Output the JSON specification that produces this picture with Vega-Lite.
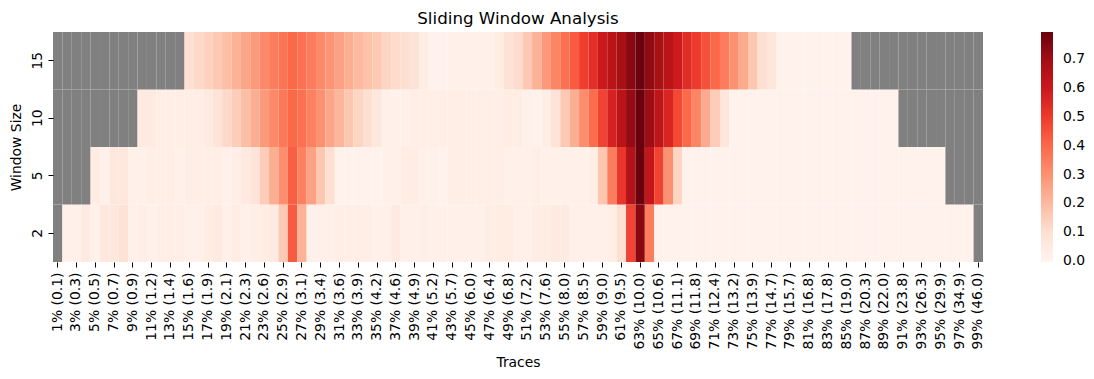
{
  "$schema": "https://vega.github.io/schema/vega-lite/v6.json",
  "autosize": "none",
  "padding": {"left": 53, "top": 32, "right": 111, "bottom": 117},
  "width": 930,
  "height": 230,
  "background": "white",
  "title": {"text": "Sliding Window Analysis", "fontSize": 16.7, "font": "DejaVu Sans", "fontWeight": "normal", "color": "black", "anchor": "middle", "frame": "group", "baseline": "alphabetic", "offset": 8, "dy": 17},
  "config": {"view": {"stroke": null}, "font": "DejaVu Sans"},
  "data": {"values": [
    {"t": "1% (0.1)", "2": null, "5": null, "10": null, "15": null},
    {"t": "2% (0.2)", "2": 0.02, "5": null, "10": null, "15": null},
    {"t": "3% (0.3)", "2": 0.02, "5": null, "10": null, "15": null},
    {"t": "4% (0.4)", "2": 0.05, "5": null, "10": null, "15": null},
    {"t": "5% (0.5)", "2": 0.02, "5": 0.04, "10": null, "15": null},
    {"t": "6% (0.6)", "2": 0.06, "5": 0.02, "10": null, "15": null},
    {"t": "7% (0.7)", "2": 0.06, "5": 0.06, "10": null, "15": null},
    {"t": "8% (0.8)", "2": 0.09, "5": 0.06, "10": null, "15": null},
    {"t": "9% (0.9)", "2": 0.02, "5": 0.02, "10": null, "15": null},
    {"t": "10% (1.0)", "2": 0.03, "5": 0.02, "10": 0.05, "15": null},
    {"t": "11% (1.2)", "2": 0.02, "5": 0.03, "10": 0.05, "15": null},
    {"t": "12% (1.3)", "2": 0.03, "5": 0.03, "10": 0.03, "15": null},
    {"t": "13% (1.4)", "2": 0.03, "5": 0.03, "10": 0.03, "15": null},
    {"t": "14% (1.5)", "2": 0.03, "5": 0.02, "10": 0.03, "15": null},
    {"t": "15% (1.6)", "2": 0.02, "5": 0.03, "10": 0.03, "15": 0.10},
    {"t": "16% (1.8)", "2": 0.02, "5": 0.03, "10": 0.03, "15": 0.12},
    {"t": "17% (1.9)", "2": 0.04, "5": 0.03, "10": 0.05, "15": 0.14},
    {"t": "18% (2.0)", "2": 0.05, "5": 0.03, "10": 0.08, "15": 0.16},
    {"t": "19% (2.1)", "2": 0.02, "5": 0.02, "10": 0.12, "15": 0.19},
    {"t": "20% (2.2)", "2": 0.04, "5": 0.03, "10": 0.15, "15": 0.22},
    {"t": "21% (2.3)", "2": 0.02, "5": 0.05, "10": 0.19, "15": 0.25},
    {"t": "22% (2.5)", "2": 0.03, "5": 0.08, "10": 0.23, "15": 0.28},
    {"t": "23% (2.6)", "2": 0.04, "5": 0.15, "10": 0.28, "15": 0.32},
    {"t": "24% (2.7)", "2": 0.05, "5": 0.23, "10": 0.32, "15": 0.35},
    {"t": "25% (2.9)", "2": 0.16, "5": 0.31, "10": 0.36, "15": 0.37},
    {"t": "26% (3.0)", "2": 0.43, "5": 0.42, "10": 0.40, "15": 0.40},
    {"t": "27% (3.1)", "2": 0.22, "5": 0.34, "10": 0.38, "15": 0.38},
    {"t": "28% (3.2)", "2": 0.02, "5": 0.26, "10": 0.34, "15": 0.35},
    {"t": "29% (3.4)", "2": 0.02, "5": 0.17, "10": 0.30, "15": 0.32},
    {"t": "30% (3.5)", "2": 0.02, "5": 0.10, "10": 0.25, "15": 0.29},
    {"t": "31% (3.6)", "2": 0.03, "5": 0.01, "10": 0.21, "15": 0.26},
    {"t": "32% (3.8)", "2": 0.03, "5": 0.01, "10": 0.17, "15": 0.23},
    {"t": "33% (3.9)", "2": 0.03, "5": 0.01, "10": 0.13, "15": 0.20},
    {"t": "34% (4.1)", "2": 0.03, "5": 0.01, "10": 0.10, "15": 0.18},
    {"t": "35% (4.2)", "2": 0.02, "5": 0.01, "10": 0.06, "15": 0.16},
    {"t": "36% (4.4)", "2": 0.02, "5": 0.02, "10": 0.02, "15": 0.13},
    {"t": "37% (4.6)", "2": 0.05, "5": 0.02, "10": 0.02, "15": 0.11},
    {"t": "38% (4.7)", "2": 0.02, "5": 0.04, "10": 0.02, "15": 0.10},
    {"t": "39% (4.9)", "2": 0.02, "5": 0.04, "10": 0.03, "15": 0.08},
    {"t": "40% (5.1)", "2": 0.03, "5": 0.02, "10": 0.03, "15": 0.04},
    {"t": "41% (5.2)", "2": 0.02, "5": 0.02, "10": 0.03, "15": 0.01},
    {"t": "42% (5.4)", "2": 0.02, "5": 0.01, "10": 0.03, "15": 0.01},
    {"t": "43% (5.7)", "2": 0.02, "5": 0.03, "10": 0.03, "15": 0.02},
    {"t": "44% (5.8)", "2": 0.02, "5": 0.03, "10": 0.03, "15": 0.02},
    {"t": "45% (6.0)", "2": 0.02, "5": 0.03, "10": 0.03, "15": 0.02},
    {"t": "46% (6.2)", "2": 0.02, "5": 0.03, "10": 0.03, "15": 0.02},
    {"t": "47% (6.4)", "2": 0.04, "5": 0.03, "10": 0.03, "15": 0.02},
    {"t": "48% (6.6)", "2": 0.04, "5": 0.03, "10": 0.03, "15": 0.04},
    {"t": "49% (6.8)", "2": 0.04, "5": 0.02, "10": 0.04, "15": 0.09},
    {"t": "50% (7.0)", "2": 0.02, "5": 0.02, "10": 0.04, "15": 0.11},
    {"t": "51% (7.2)", "2": 0.02, "5": 0.02, "10": 0.02, "15": 0.16},
    {"t": "52% (7.4)", "2": 0.04, "5": 0.03, "10": 0.01, "15": 0.22},
    {"t": "53% (7.6)", "2": 0.04, "5": 0.02, "10": 0.03, "15": 0.28},
    {"t": "54% (7.8)", "2": 0.05, "5": 0.02, "10": 0.08, "15": 0.33},
    {"t": "55% (8.0)", "2": 0.05, "5": 0.02, "10": 0.16, "15": 0.38},
    {"t": "56% (8.2)", "2": 0.02, "5": 0.02, "10": 0.23, "15": 0.43},
    {"t": "57% (8.5)", "2": 0.02, "5": 0.02, "10": 0.31, "15": 0.49},
    {"t": "58% (8.7)", "2": 0.02, "5": 0.03, "10": 0.39, "15": 0.53},
    {"t": "59% (9.0)", "2": 0.02, "5": 0.17, "10": 0.48, "15": 0.60},
    {"t": "60% (9.2)", "2": 0.03, "5": 0.35, "10": 0.57, "15": 0.64},
    {"t": "61% (9.5)", "2": 0.10, "5": 0.51, "10": 0.64, "15": 0.69},
    {"t": "62% (9.7)", "2": 0.48, "5": 0.66, "10": 0.72, "15": 0.74},
    {"t": "63% (10.0)", "2": 0.74, "5": 0.79, "10": 0.79, "15": 0.79},
    {"t": "64% (10.3)", "2": 0.35, "5": 0.62, "10": 0.71, "15": 0.73},
    {"t": "65% (10.6)", "2": 0.01, "5": 0.48, "10": 0.63, "15": 0.69},
    {"t": "66% (10.9)", "2": 0.01, "5": 0.30, "10": 0.56, "15": 0.64},
    {"t": "67% (11.1)", "2": 0.01, "5": 0.13, "10": 0.47, "15": 0.59},
    {"t": "68% (11.4)", "2": 0.01, "5": 0.01, "10": 0.40, "15": 0.54},
    {"t": "69% (11.8)", "2": 0.01, "5": 0.01, "10": 0.33, "15": 0.50},
    {"t": "70% (12.1)", "2": 0.01, "5": 0.01, "10": 0.24, "15": 0.45},
    {"t": "71% (12.4)", "2": 0.01, "5": 0.01, "10": 0.15, "15": 0.40},
    {"t": "72% (12.8)", "2": 0.01, "5": 0.01, "10": 0.07, "15": 0.35},
    {"t": "73% (13.2)", "2": 0.01, "5": 0.01, "10": 0.01, "15": 0.30},
    {"t": "74% (13.5)", "2": 0.01, "5": 0.01, "10": 0.01, "15": 0.24},
    {"t": "75% (13.9)", "2": 0.01, "5": 0.01, "10": 0.01, "15": 0.17},
    {"t": "76% (14.3)", "2": 0.01, "5": 0.01, "10": 0.01, "15": 0.10},
    {"t": "77% (14.7)", "2": 0.01, "5": 0.01, "10": 0.01, "15": 0.07},
    {"t": "78% (15.2)", "2": 0.01, "5": 0.01, "10": 0.01, "15": 0.01},
    {"t": "79% (15.7)", "2": 0.01, "5": 0.01, "10": 0.01, "15": 0.01},
    {"t": "80% (16.2)", "2": 0.01, "5": 0.01, "10": 0.01, "15": 0.01},
    {"t": "81% (16.8)", "2": 0.01, "5": 0.01, "10": 0.01, "15": 0.01},
    {"t": "82% (17.3)", "2": 0.01, "5": 0.01, "10": 0.01, "15": 0.01},
    {"t": "83% (17.8)", "2": 0.01, "5": 0.01, "10": 0.01, "15": 0.01},
    {"t": "84% (18.4)", "2": 0.01, "5": 0.01, "10": 0.01, "15": 0.01},
    {"t": "85% (19.0)", "2": 0.01, "5": 0.01, "10": 0.01, "15": 0.01},
    {"t": "86% (19.6)", "2": 0.01, "5": 0.01, "10": 0.01, "15": null},
    {"t": "87% (20.3)", "2": 0.01, "5": 0.01, "10": 0.01, "15": null},
    {"t": "88% (21.1)", "2": 0.01, "5": 0.01, "10": 0.01, "15": null},
    {"t": "89% (22.0)", "2": 0.01, "5": 0.01, "10": 0.01, "15": null},
    {"t": "90% (22.9)", "2": 0.01, "5": 0.01, "10": 0.01, "15": null},
    {"t": "91% (23.8)", "2": 0.01, "5": 0.01, "10": null, "15": null},
    {"t": "92% (25.0)", "2": 0.01, "5": 0.01, "10": null, "15": null},
    {"t": "93% (26.3)", "2": 0.01, "5": 0.01, "10": null, "15": null},
    {"t": "94% (28.0)", "2": 0.01, "5": 0.01, "10": null, "15": null},
    {"t": "95% (29.9)", "2": 0.01, "5": 0.01, "10": null, "15": null},
    {"t": "96% (32.2)", "2": 0.01, "5": null, "10": null, "15": null},
    {"t": "97% (34.9)", "2": 0.01, "5": null, "10": null, "15": null},
    {"t": "98% (39.0)", "2": 0.01, "5": null, "10": null, "15": null},
    {"t": "99% (46.0)", "2": null, "5": null, "10": null, "15": null}
  ]},
  "transform": [{"fold": ["2", "5", "10", "15"], "as": ["w", "v"]}],
  "mark": {"type": "rect", "invalid": null},
  "encoding": {
    "x": {"field": "t", "type": "ordinal", "sort": null,
      "scale": {"paddingInner": 0, "paddingOuter": 0},
      "axis": {
        "values": ["1% (0.1)","3% (0.3)","5% (0.5)","7% (0.7)","9% (0.9)","11% (1.2)","13% (1.4)","15% (1.6)","17% (1.9)","19% (2.1)","21% (2.3)","23% (2.6)","25% (2.9)","27% (3.1)","29% (3.4)","31% (3.6)","33% (3.9)","35% (4.2)","37% (4.6)","39% (4.9)","41% (5.2)","43% (5.7)","45% (6.0)","47% (6.4)","49% (6.8)","51% (7.2)","53% (7.6)","55% (8.0)","57% (8.5)","59% (9.0)","61% (9.5)","63% (10.0)","65% (10.6)","67% (11.1)","69% (11.8)","71% (12.4)","73% (13.2)","75% (13.9)","77% (14.7)","79% (15.7)","81% (16.8)","83% (17.8)","85% (19.0)","87% (20.3)","89% (22.0)","91% (23.8)","93% (26.3)","95% (29.9)","97% (34.9)","99% (46.0)"],
        "title": "Traces", "titleFont": "DejaVu Sans", "titleFontSize": 13.9, "titleFontWeight": "normal", "titleColor": "black",
        "titleX": 465, "titleY": 100, "titleAlign": "center", "titleBaseline": "middle",
        "labelAngle": 270, "labelAlign": "right", "labelBaseline": "middle", "labelFont": "DejaVu Sans", "labelFontSize": 13.9, "labelColor": "black",
        "labelPadding": 5, "labelOverlap": false, "labelLimit": 300,
        "tickSize": 5, "tickColor": "black", "tickWidth": 1, "domain": false, "grid": false
      }
    },
    "y": {"field": "w", "type": "ordinal", "sort": ["15", "10", "5", "2"],
      "scale": {"paddingInner": 0, "paddingOuter": 0},
      "axis": {
        "title": "Window Size", "titleFont": "DejaVu Sans", "titleFontSize": 13.9, "titleFontWeight": "normal", "titleColor": "black",
        "titleX": -36.5, "titleY": 115, "titleAngle": 270, "titleAlign": "center", "titleBaseline": "middle",
        "labelAngle": 270, "labelAlign": "center", "labelBaseline": "bottom", "labelFont": "DejaVu Sans", "labelFontSize": 13.9, "labelColor": "black",
        "labelPadding": 4, "tickSize": 5, "tickColor": "black", "tickWidth": 1, "domain": false, "grid": false
      }
    },
    "fill": {
      "condition": {"test": "datum.v == null", "value": "#808080"},
      "field": "v", "type": "quantitative",
      "scale": {"type": "linear", "interpolate": "rgb",
        "domain": [-0.003, 0.099375, 0.19875, 0.298125, 0.3975, 0.496875, 0.59625, 0.695625, 0.795],
        "range": ["#fff5f0", "#fee0d2", "#fcbba1", "#fc9272", "#fb6a4a", "#ef3b2c", "#cb181d", "#a50f15", "#67000d"]},
      "legend": {"orient": "none", "legendX": 988, "legendY": 0, "direction": "vertical", "title": null, "type": "gradient",
        "gradientLength": 230, "gradientThickness": 12, "gradientStrokeWidth": 0,
        "values": [0, 0.1, 0.2, 0.3, 0.4, 0.5, 0.6, 0.7], "format": ".1f",
        "labelFont": "DejaVu Sans", "labelFontSize": 13.9, "labelColor": "black", "labelOffset": 10, "labelBaseline": "middle", "labelOverlap": false}
    }
  }
}
